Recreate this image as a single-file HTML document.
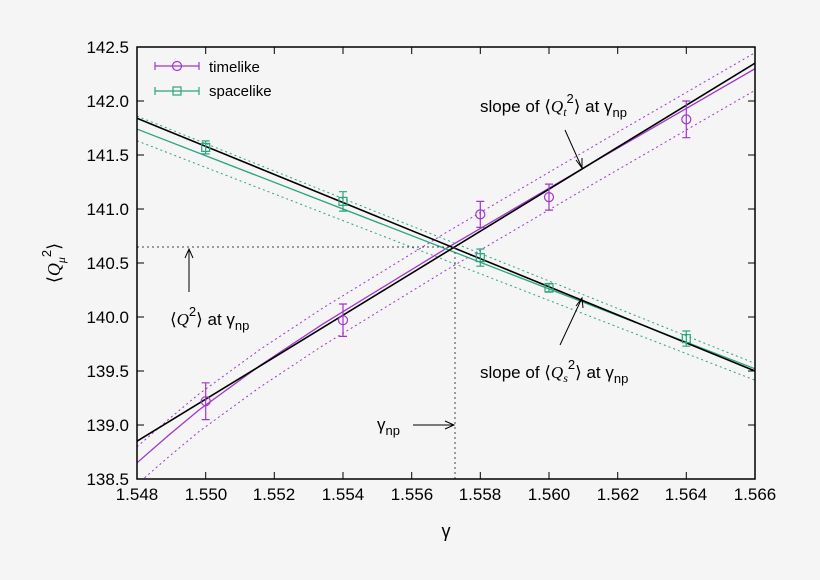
<!DOCTYPE html>
<html><head><meta charset="utf-8"><style>
body{margin:0;background:#f5f5f5;}
svg{display:block;font-family:"Liberation Sans",sans-serif;}
</style></head><body>
<svg width="820" height="580" xmlns="http://www.w3.org/2000/svg">
<defs><clipPath id="c"><rect x="137" y="47" width="618" height="432"/></clipPath></defs>
<rect width="820" height="580" fill="#f5f5f5"/>
<g stroke="#000" stroke-width="1">
<line x1="205.7" y1="479" x2="205.7" y2="472"/><line x1="274.3" y1="479" x2="274.3" y2="472"/><line x1="343" y1="479" x2="343" y2="472"/><line x1="411.7" y1="479" x2="411.7" y2="472"/><line x1="480.3" y1="479" x2="480.3" y2="472"/><line x1="549" y1="479" x2="549" y2="472"/><line x1="617.7" y1="479" x2="617.7" y2="472"/><line x1="686.3" y1="479" x2="686.3" y2="472"/>
<line x1="205.7" y1="47" x2="205.7" y2="54"/><line x1="274.3" y1="47" x2="274.3" y2="54"/><line x1="343" y1="47" x2="343" y2="54"/><line x1="411.7" y1="47" x2="411.7" y2="54"/><line x1="480.3" y1="47" x2="480.3" y2="54"/><line x1="549" y1="47" x2="549" y2="54"/><line x1="617.7" y1="47" x2="617.7" y2="54"/><line x1="686.3" y1="47" x2="686.3" y2="54"/>
<line x1="137" y1="425" x2="144" y2="425"/><line x1="137" y1="371" x2="144" y2="371"/><line x1="137" y1="317" x2="144" y2="317"/><line x1="137" y1="263" x2="144" y2="263"/><line x1="137" y1="209" x2="144" y2="209"/><line x1="137" y1="155" x2="144" y2="155"/><line x1="137" y1="101" x2="144" y2="101"/>
<line x1="755" y1="425" x2="748" y2="425"/><line x1="755" y1="371" x2="748" y2="371"/><line x1="755" y1="317" x2="748" y2="317"/><line x1="755" y1="263" x2="748" y2="263"/><line x1="755" y1="209" x2="748" y2="209"/><line x1="755" y1="155" x2="748" y2="155"/><line x1="755" y1="101" x2="748" y2="101"/>
</g>
<g clip-path="url(#c)" fill="none">
<polyline points="137,462.8 167.9,435.9 198.8,410.1 260.6,365.1 322.4,324.3 446,248.6 600.5,158.1 755,68.7" stroke="#a035d0" stroke-width="1.3"/>
<polyline points="137,446.8 167.9,419.9 198.8,394.1 260.6,349.1 322.4,308.3 446,232.6 600.5,142.1 755,52.7" stroke="#a035d0" stroke-width="1" stroke-dasharray="2,3"/>
<polyline points="137,484.4 167.9,457.5 198.8,431.7 260.6,386.7 322.4,345.9 446,270.2 600.5,179.7 755,90.3" stroke="#a035d0" stroke-width="1" stroke-dasharray="2,3"/>
<line x1="137" y1="129.1" x2="755" y2="368.8" stroke="#2aa57f" stroke-width="1.3"/>
<line x1="137" y1="116.1" x2="755" y2="363.4" stroke="#2aa57f" stroke-width="1" stroke-dasharray="2,3"/>
<line x1="137" y1="140.8" x2="755" y2="380.2" stroke="#2aa57f" stroke-width="1" stroke-dasharray="2,3"/>
<line x1="137" y1="441.2" x2="755" y2="63.2" stroke="#000" stroke-width="1.6"/>
<line x1="137" y1="118.3" x2="755" y2="371" stroke="#000" stroke-width="1.6"/>
<line x1="137" y1="247" x2="455" y2="247" stroke="#444" stroke-dasharray="2,3"/>
<line x1="455" y1="247" x2="455" y2="479" stroke="#444" stroke-dasharray="2,3"/>
</g>
<g stroke="#a035d0" fill="none" stroke-width="1.2">
<path d="M205.7,382.8V419.6M201.7,382.8h8M201.7,419.6h8"/><circle cx="205.7" cy="401.2" r="4.5"/>
<path d="M343,304V336.4M339,304h8M339,336.4h8"/><circle cx="343" cy="320.2" r="4.5"/>
<path d="M480.3,201.4V227.4M476.3,201.4h8M476.3,227.4h8"/><circle cx="480.3" cy="214.4" r="4.5"/>
<path d="M549,184.1V210.1M545,184.1h8M545,210.1h8"/><circle cx="549" cy="197.1" r="4.5"/>
<path d="M686.3,101V137.7M682.3,101h8M682.3,137.7h8"/><circle cx="686.3" cy="119.4" r="4.5"/>
</g>
<g stroke="#2aa57f" fill="none" stroke-width="1.2">
<path d="M205.7,140.9V153.9M201.7,140.9h8M201.7,153.9h8"/><rect x="201.7" y="143.4" width="8" height="8"/>
<path d="M343,191.7V211.1M339,191.7h8M339,211.1h8"/><rect x="339" y="197.4" width="8" height="8"/>
<path d="M480.3,249V266.2M476.3,249h8M476.3,266.2h8"/><rect x="476.3" y="253.6" width="8" height="8"/>
<path d="M549,283.5V292.2M545,283.5h8M545,292.2h8"/><rect x="545" y="283.8" width="8" height="8"/>
<path d="M686.3,331V346.2M682.3,331h8M682.3,346.2h8"/><rect x="682.3" y="334.6" width="8" height="8"/>
</g>
<g stroke="#a035d0" fill="none" stroke-width="1.2"><line x1="155" y1="66" x2="199" y2="66"/><line x1="155" y1="62" x2="155" y2="70"/><line x1="199" y1="62" x2="199" y2="70"/><circle cx="177" cy="66" r="4.5"/></g>
<g stroke="#2aa57f" fill="none" stroke-width="1.2"><line x1="155" y1="91" x2="199" y2="91"/><line x1="155" y1="87" x2="155" y2="95"/><line x1="199" y1="87" x2="199" y2="95"/><rect x="173" y="87" width="8" height="8"/></g>
<rect x="137" y="47" width="618" height="432" fill="none" stroke="#000" stroke-width="1.5"/>
<g font-size="17" fill="#000" text-anchor="end">
<text x="129" y="485">138.5</text><text x="129" y="431">139.0</text><text x="129" y="377">139.5</text>
<text x="129" y="323">140.0</text><text x="129" y="269">140.5</text><text x="129" y="215">141.0</text>
<text x="129" y="161">141.5</text><text x="129" y="107">142.0</text><text x="129" y="53">142.5</text>
</g>
<g font-size="17" fill="#000" text-anchor="middle">
<text x="137" y="500">1.548</text><text x="206" y="500">1.550</text><text x="274" y="500">1.552</text>
<text x="343" y="500">1.554</text><text x="412" y="500">1.556</text><text x="480" y="500">1.558</text>
<text x="549" y="500">1.560</text><text x="618" y="500">1.562</text><text x="686" y="500">1.564</text>
<text x="755" y="500">1.566</text>
<text x="446" y="537" font-size="18">γ</text>
</g>
<text transform="translate(60,263) rotate(-90)" font-size="18" text-anchor="middle">⟨<tspan font-family="Liberation Serif" font-style="italic">Q</tspan><tspan font-size="12" dy="5" font-family="Liberation Serif" font-style="italic">μ</tspan><tspan font-size="13" dy="-14">2</tspan><tspan dy="9">⟩</tspan></text>
<g font-size="15">
<text x="209" y="72">timelike</text>
<text x="209" y="96">spacelike</text>
</g>
<g font-size="17">
<text x="480" y="112">slope of ⟨<tspan font-family="Liberation Serif" font-style="italic">Q</tspan><tspan font-size="12" dy="4" font-family="Liberation Serif" font-style="italic">t</tspan><tspan font-size="13" dy="-13">2</tspan><tspan dy="9">⟩ at γ</tspan><tspan font-size="13" dy="5">np</tspan></text>
<text x="480" y="378">slope of ⟨<tspan font-family="Liberation Serif" font-style="italic">Q</tspan><tspan font-size="12" dy="4" font-family="Liberation Serif" font-style="italic">s</tspan><tspan font-size="13" dy="-13">2</tspan><tspan dy="9">⟩ at γ</tspan><tspan font-size="13" dy="5">np</tspan></text>
<text x="170" y="325">⟨<tspan font-family="Liberation Serif" font-style="italic">Q</tspan><tspan font-size="13" dy="-9">2</tspan><tspan dy="9">⟩ at γ</tspan><tspan font-size="13" dy="5">np</tspan></text>
<text x="377" y="430">γ<tspan font-size="13" dy="5">np</tspan></text>
</g>
<g stroke="#000" stroke-width="1" fill="none">
<line x1="565" y1="130" x2="582" y2="168"/><path d="M576,160 L582,168 L582,158"/>
<line x1="560" y1="345" x2="582" y2="298"/><path d="M576,306 L582,298 L583,308"/>
<line x1="189" y1="292" x2="189" y2="249"/><path d="M185,258 L189,249 L193,258"/>
<line x1="413" y1="425" x2="454" y2="425"/><path d="M445,421 L454,425 L445,429"/>
</g>
</svg>
</body></html>
